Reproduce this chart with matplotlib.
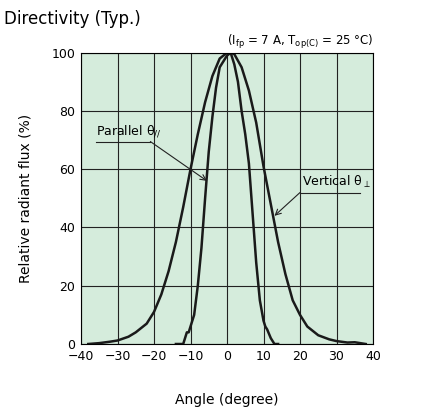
import matplotlib
matplotlib.use("Agg")
import matplotlib.pyplot as plt

vert_x = [-38, -35, -32, -30, -27, -25, -22, -20, -18, -16, -14, -12, -10, -8, -6, -4, -2, 0, 1, 2, 4, 6, 8, 10, 12, 14, 16, 18, 20, 22, 25, 28, 30, 33, 35, 38]
vert_y = [0, 0.3, 0.8, 1.2, 2.5, 4, 7, 11, 17, 25, 35, 47, 60, 72, 83, 92, 98, 100, 100, 99.5, 95, 87, 76, 61, 48, 35, 24, 15, 10, 6, 3, 1.6, 1, 0.5, 0.6, 0]
par_x = [-14, -12, -11.5, -11, -10.5, -10, -9, -8, -7, -6, -5, -4, -3, -2, -1, 0, 1, 2, 3, 4, 5, 6, 7, 8, 9, 10, 10.5, 11, 12, 13, 14]
par_y = [0, 0, 2, 4, 4, 6, 10, 20, 33, 50, 66, 78, 88, 95, 97, 99, 100, 96, 90, 80, 72, 62, 45, 28, 15, 8, 6, 5, 2, 0, 0]

fig = plt.figure(figsize=(4.23, 4.19), dpi=100)
ax = fig.add_axes([81/423, 1-344/419, 292/423, 291.3/419])
ax.set_facecolor('#d5ecdc')
ax.plot(vert_x, vert_y, color='#1a1a1a', lw=1.8)
ax.plot(par_x, par_y, color='#1a1a1a', lw=1.8)
ax.set_xlim(-40, 40); ax.set_ylim(0, 100)
ax.set_xticks(range(-40, 41, 10)); ax.set_yticks(range(0, 101, 20))
ax.grid(True, color='#222222', lw=0.8)
ax.tick_params(length=0, labelsize=9, pad=4)
for s in ax.spines.values():
    s.set_linewidth(0.8)
ax.set_xlabel('Angle (degree)', fontsize=10, labelpad=22)
ax.set_ylabel('Relative radiant flux (%)', fontsize=10, labelpad=14)
fig.text(0.01, 0.975, 'Directivity (Typ.)', fontsize=12, va='top')
ax.text(1.0, 1.005, r'(I$_{\rm fp}$ = 7 A, T$_{\rm op(C)}$ = 25 °C)', transform=ax.transAxes, ha='right', va='bottom', fontsize=8.5)
ax.text(-36, 70.5, 'Parallel θ$_{//}$', fontsize=9, va='bottom')
ax.plot([-36, -21], [69.5, 69.5], color='#222', lw=0.8)
ax.annotate('', xy=(-5.5, 56), xytext=(-21, 69.5),
            arrowprops=dict(arrowstyle='->', color='#222', lw=0.8, shrinkA=0, shrinkB=0))
ax.annotate('', xy=(13, 44), xytext=(20, 52),
            arrowprops=dict(arrowstyle='->', color='#222', lw=0.8, shrinkA=0, shrinkB=0))
ax.text(20.5, 53, 'Vertical θ$_{\\perp}$', fontsize=9, va='bottom')
ax.plot([20, 36.5], [52, 52], color='#222', lw=0.8)
fig.savefig('out.png', dpi=100)
